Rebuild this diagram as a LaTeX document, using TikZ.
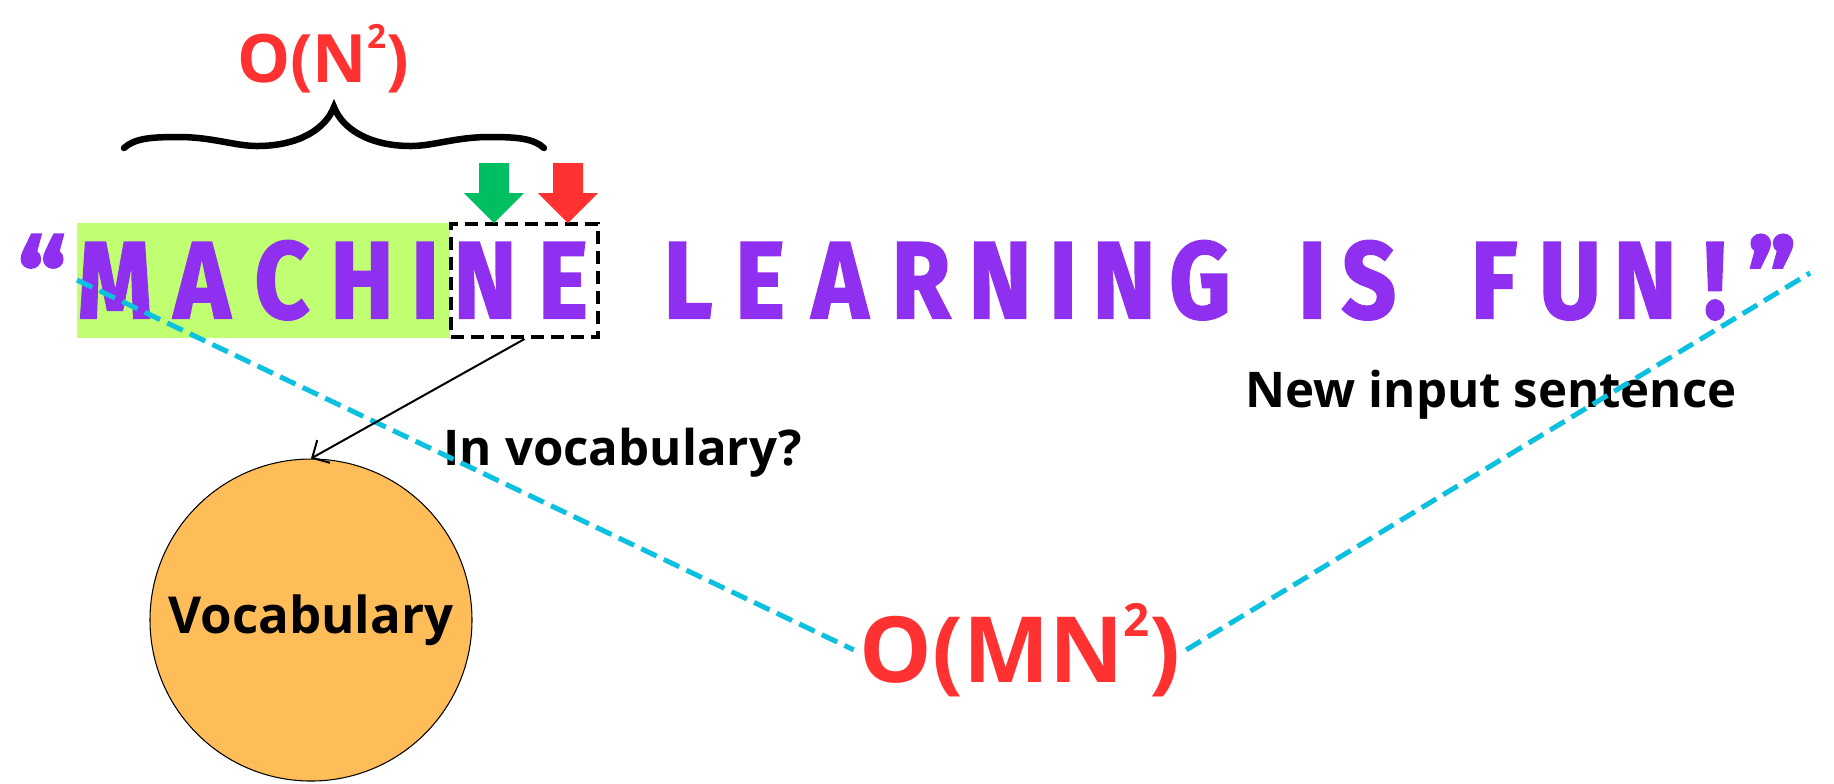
\documentclass[tikz,border=0pt]{standalone}
\usepackage{fontspec}
\setmainfont{Open Sans}
\newfontfamily\posterfont{Fira Sans}[BoldFeatures={FakeBold=2}]
\usepackage{graphicx}
\usetikzlibrary{arrows.meta}
\definecolor{sentpurple}{HTML}{8F2FF0}
\definecolor{seenlime}{HTML}{C1FF72}
\definecolor{okgreen}{HTML}{00BF63}
\definecolor{costred}{HTML}{FF3131}
\definecolor{pathcyan}{HTML}{0CC0DF}
\definecolor{vocabfill}{HTML}{FFBD59}
\newcommand{\powtwo}{\raisebox{0.5em}{\scalebox{0.5}{2}}}

\begin{document}
\begin{tikzpicture}[x=0.1mm,y=-0.1mm,>={Straight Barb[length=1.3mm,width=2.6mm]},
    letter/.style={anchor=base,inner sep=0pt,text=sentpurple,font=\posterfont\bfseries\fontsize{31}{31}\selectfont},
    label text/.style={anchor=base west,inner sep=0pt,font=\bfseries\fontsize{14}{14}\selectfont},
    cost/.style={anchor=base,text=costred,inner sep=0.5mm,font=\bfseries\fontsize{26}{26}\selectfont},
    guide/.style={draw=pathcyan,line width=0.5mm,dash pattern=on 1.7mm off 0.8mm}]

    \useasboundingbox (0,0) rectangle (1834,783);

    % Part already checked, and the window
    \fill[seenlime] (77,223) rectangle (450,338);
    \node[draw,line width=0.4mm,dash pattern=on 1.3mm off 0.7mm,minimum width=14.7mm,minimum height=11.3mm,inner sep=0pt] (window) at (524.5,280.5) {};

    % Sentence
    \node[letter] (lquote) at (42,318) {“};
    \foreach \ch/\cx [count=\i] in {M/115,A/202,C/282,H/362,I/425,N/485,E/563,L/688,E/760,A/840,R/921,N/1000,I/1063,N/1124,G/1200,I/1312,S/1369,F/1494,U/1570,N/1645,!/1715}
        \node[letter] (ch\i) at (\cx,318) {\scalebox{0.87}[1]{\ch}};
    \node[letter] (rquote) at (1772,318) {”};

    % Arrows over the window
    \foreach \ax/\col in {494/okgreen,568/costred}
        \fill[\col] (\ax-15,163) -- (\ax+15,163) -- (\ax+15,193) -- (\ax+30,193) -- (\ax,223) -- (\ax-30,193) -- (\ax-15,193) -- cycle;

    % Brace
    \draw[line width=0.65mm,line cap=round] (124,148) .. controls (135,138) and (152,137) .. (179,137) .. controls (212,137) and (235,146) .. (257,146) .. controls (300,146) and (326,128) .. (334,107) .. controls (342,128) and (368,146) .. (411,146) .. controls (433,146) and (456,137) .. (489,137) .. controls (516,137) and (533,138) .. (544,148);

    % Nodes
    \node[cost,font=\bfseries\fontsize{19}{19}\selectfont] (pass) at (323,82) {O(N\powtwo)};
    \node[circle,draw,line width=0.3pt,fill=vocabfill,minimum size=32.2mm,inner sep=0pt,font=\bfseries\fontsize{14.5}{14.5}\selectfont] (vocab) at (311,620) {Vocabulary};
    \node[label text] (question) at (443,465) {In vocabulary?};
    \node[label text] (input) at (1245,407) {New input sentence};
    \node[cost] (total) at (1020,682) {O(MN\powtwo)};

    % Edges
    \coordinate (sentstart) at (77,280);
    \coordinate (sentend) at (1810,273);
    \draw[guide] (sentstart) -- (total.west);
    \draw[guide] (total.east) -- (sentend);
    \draw[->,line width=0.2mm] (window.south) -- (vocab.north);
\end{tikzpicture}
\end{document}
